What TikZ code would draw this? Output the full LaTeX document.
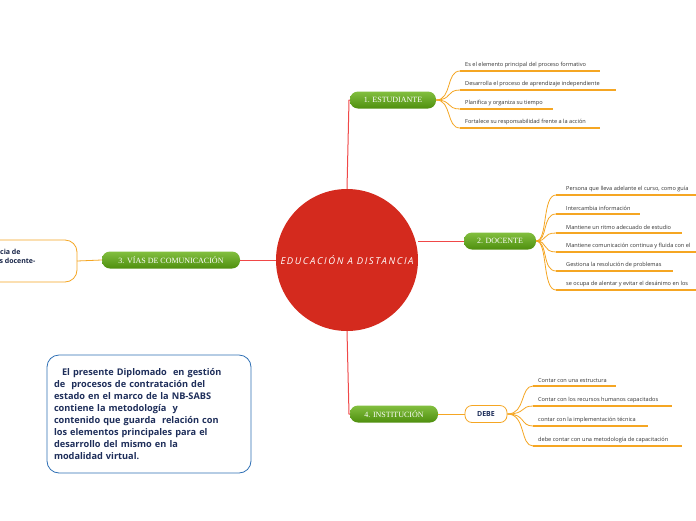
\documentclass[tikz,border=0pt]{standalone}
\usepackage{fontspec}
\setmainfont{Open Sans}
\newfontfamily\slab{Liberation Serif}
\usetikzlibrary{arrows.meta}
\definecolor{gr}{HTML}{6DB41E}
\definecolor{grd}{HTML}{4E8F0E}
\definecolor{org}{HTML}{F5A623}
\definecolor{redc}{HTML}{D42A1E}
\definecolor{lnk}{HTML}{F04848}
\definecolor{navy}{HTML}{1E2E5A}
\definecolor{bluebd}{HTML}{2E6FB5}
\begin{document}
\begin{tikzpicture}[x=1pt,y=-1pt,
  mainbox/.style={rounded corners=8pt,top color=gr!85!white,bottom color=grd,draw=none,text=white,font=\slab\fontsize{8}{9}\selectfont,minimum height=17pt,inner xsep=8pt},
  leaf/.style={anchor=south west,inner sep=1pt,font=\fontsize{5.6}{6}\selectfont,text=black!80},
  uline/.style={draw=org,line width=1.2pt},
  conn/.style={draw=org,line width=0.8pt},
  redl/.style={draw=lnk,line width=1pt}]
\useasboundingbox (0,0) rectangle (696,520);
\fill[white] (0,0) rectangle (696,520);
% centre
\node[circle,fill=redc,minimum size=142pt,inner sep=0pt] (c) at (347,260) {};
\node[text=white,font=\itshape\fontsize{9.5}{10}\selectfont] at (c) {E\,D\,U\,C\,A\,C\,I\,Ó\,N \,A \,D\,I\,S\,T\,A\,N\,C\,I\,A};
% main nodes
\node[mainbox,minimum width=86pt] (e) at (393,100) {1. ESTUDIANTE};
\node[mainbox,minimum width=72pt] (d) at (500,241) {2. DOCENTE};
\node[mainbox,minimum width=138pt] (v) at (171,260) {3. VÍAS DE COMUNICACIÓN};
\node[mainbox,minimum width=88pt] (i) at (394,414) {4. INSTITUCIÓN};
\draw[redl] (c.north) -- (349,100) -- (e.west);
\draw[redl] (c.south) -- (349,414) -- (i.west);
\draw[redl] (c.east |- d) -- (d.west);
\draw[redl] (c.west) -- (v.east);
% estudiante leaves
\foreach \n/\y/\e/\t in {e1/71/600/{Es el elemento principal del proceso formativo},
  e2/90/616/{Desarrolla el proceso de aprendizaje independiente},
  e3/109/553/{Planifica y organiza su tiempo},
  e4/128/600/{Fortalece su responsabilidad frente a la acción}}{
  \coordinate (\n) at (460,\y);
  \node[leaf] at (464,\y-2) {\t};
  \draw[uline] (\n) -- (\e,\y);
  \draw[conn] (e.east) .. controls (452,100) and (446,\y) .. (\n);
}
% docente leaves
\foreach \n/\y/\e/\t in {d1/195/696/{Persona que lleva adelante el curso, como guía},
  d2/214/640/{Intercambia información},
  d3/233/682/{Mantiene un ritmo adecuado de estudio},
  d4/252/696/{Mantiene comunicación continua y fluida con el},
  d5/271/673/{Gestiona la resolución de problemas},
  d6/290/696/{se ocupa de alentar y evitar el desánimo en los}}{
  \coordinate (\n) at (556,\y);
  \node[leaf] at (565,\y-2) {\t};
  \draw[uline] (\n) -- (\e,\y);
  \draw[conn] (d.east) .. controls (548,241) and (542,\y) .. (\n);
}
% institucion
\node[draw=org,line width=0.8pt,rounded corners=7pt,fill=white,minimum width=42pt,minimum height=17pt,font=\bfseries\fontsize{7}{8}\selectfont,text=navy] (db) at (486,414) {DEBE};
\draw[conn] (i.east) -- (db.west);
\foreach \n/\y/\e/\t in {i1/386/616/{Contar con una estructura},
  i2/406/672/{Contar con los recursos humanos capacitados},
  i3/426/648/{contar con la implementación técnica},
  i4/446/682/{debe contar con una metodología de capacitación}}{
  \coordinate (\n) at (533,\y);
  \node[leaf] at (537,\y-2) {\t};
  \draw[uline] (\n) -- (\e,\y);
  \draw[conn] (db.east) .. controls (526,414) and (520,\y) .. (\n);
}
% vias leaf
\draw[draw=org,line width=0.8pt,rounded corners=12pt,fill=white] (-30,240) rectangle (77,282);
\coordinate (vl) at (77,261);
\node[anchor=west,align=left,inner sep=0pt,font=\bfseries\fontsize{7}{9}\selectfont,text=navy!80!black] (vt) at (-33,256) {Importancia de\\relaciones docente-};
\draw[conn] (v.west) -- (vl);
% bottom box
\node[draw=bluebd,line width=0.8pt,rounded corners=12pt,minimum width=204pt,minimum height=118pt,text width=190pt,align=left,font=\bfseries\fontsize{9.2}{12}\selectfont,text=navy] (b) at (149,414) {\hspace*{8pt}El presente Diplomado\ \ en gestión\\ de\ \ procesos de contratación del\\ estado en el marco de la NB-SABS\\ contiene la metodología\ \ y\\ contenido que guarda\ \ relación con\\ los elementos principales para el\\ desarrollo del mismo en la\\ modalidad virtual.};
\end{tikzpicture}
\end{document}
